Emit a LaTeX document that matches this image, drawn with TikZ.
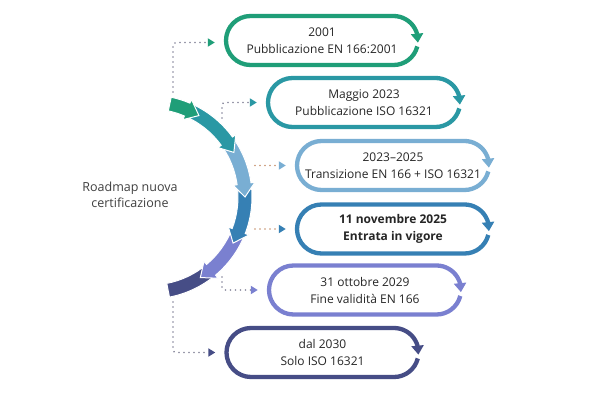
\documentclass[tikz,border=0pt]{standalone}
\usepackage{fontspec}
\setmainfont{Open Sans}
\usetikzlibrary{arrows.meta,bending,calc}
\definecolor{cA}{HTML}{1F9E78}
\definecolor{cB}{HTML}{2A98A4}
\definecolor{cC}{HTML}{79AED3}
\definecolor{cD}{HTML}{3680B4}
\definecolor{cE}{HTML}{7A80D0}
\definecolor{cF}{HTML}{464D86}
\definecolor{txt}{HTML}{262626}
\definecolor{lbl}{HTML}{404040}
\definecolor{dotgray}{HTML}{85859A}
\definecolor{dotorange}{HTML}{C8926E}
\tikzset{
  boxtext/.style={align=center, font=\fontsize{12}{17}\selectfont, text=txt,
    minimum width=196pt, minimum height=53pt, inner sep=0pt},
  conn/.style={line width=1.8pt, line cap=round, dash pattern=on 0pt off 5pt, rounded corners=3pt},
}
\newcommand{\pillbox}[2]{%
  \draw[#2, line width=4.3pt, -{Triangle[width=12pt,length=9pt]}]
    ($(#1.center)+(71.5,0)+(-14:24.5)$) arc[start angle=-14,end angle=-90,radius=24.5pt]
    -- ++(-143,0) arc[start angle=270,end angle=90,radius=24.5pt]
    -- ++(143,0) arc[start angle=90,end angle=-5,radius=24.5pt];
}
\newcommand{\arcseg}[3]{%
  \fill[#1, draw=white, line width=1pt] (#2:102) arc[start angle=#2, end angle=#3+8, radius=102pt]
    -- ({#3+8}:106) -- (#3:95) -- ({#3+8}:84) -- ({#3+8}:88)
    arc[start angle=#3+8, end angle=#2, radius=88pt] -- cycle;
}
\begin{document}
\begin{tikzpicture}[x=1pt,y=1pt]
\fill[white] (0,0) rectangle (600,400);
\useasboundingbox (0,0) rectangle (600,400);

% circular arc of arrows
\begin{scope}[shift={(150,203)}]
  \fill[cF, draw=white, line width=1pt] (-50:102) arc[start angle=-50,end angle=-79,radius=102pt]
     -- (-79:88) arc[start angle=-79,end angle=-50,radius=88pt] -- cycle;
  \arcseg{cE}{-21}{-58}
  \arcseg{cD}{8}{-29}
  \arcseg{cC}{36}{0}
  \arcseg{cB}{67}{28}
  \arcseg{cA}{78}{59}
\end{scope}

\node[align=center, font=\fontsize{12.5}{16.5}\selectfont, text=lbl] (title) at (130,205) {Roadmap nuova\\certificazione};

% boxes
\node[boxtext] (b1) at (322,359.5) {2001\\Pubblicazione EN 166:2001};
\node[boxtext] (b2) at (364,297.5) {Maggio 2023\\Pubblicazione ISO 16321};
\node[boxtext] (b3) at (393,234.5) {2023–2025\\Transizione EN 166 + ISO 16321};
\node[boxtext, font=\fontsize{12}{17}\selectfont\bfseries] (b4) at (393,171) {11 novembre 2025\\Entrata in vigore};
\node[boxtext] (b5) at (365,110) {31 ottobre 2029\\Fine validità EN 166};
\node[boxtext] (b6) at (322.5,47.5) {dal 2030\\Solo ISO 16321};

\pillbox{b1}{cA}
\pillbox{b2}{cB}
\pillbox{b3}{cC}
\pillbox{b4}{cD}
\pillbox{b5}{cE}
\pillbox{b6}{cF}

% connectors
\coordinate (s1) at (173,308);
\coordinate (s2) at (222,282);
\coordinate (s3) at (255,234.5);
\coordinate (s4) at (255,171);
\coordinate (s5) at (222,123);
\coordinate (s6) at (173,98);
\draw[conn, dotgray, -{Triangle[width=8pt,length=7pt,color=cA]}] (s1) |- ([xshift=-9pt,yshift=-2pt]b1.west);
\draw[conn, dotgray, -{Triangle[width=8pt,length=7pt,color=cB]}] (s2) |- ([xshift=-9pt]b2.west);
\draw[conn, dotorange, -{Triangle[width=8pt,length=7pt,color=cC]}] (s3) -- ([xshift=-9pt]b3.west);
\draw[conn, dotorange, -{Triangle[width=8pt,length=7pt,color=cD]}] (s4) -- ([xshift=-9pt]b4.west);
\draw[conn, dotgray, -{Triangle[width=8pt,length=7pt,color=cE]}] (s5) |- ([xshift=-9pt]b5.west);
\draw[conn, dotgray, -{Triangle[width=8pt,length=7pt,color=cF]}] (s6) |- ([xshift=-9pt]b6.west);
\end{tikzpicture}
\end{document}
